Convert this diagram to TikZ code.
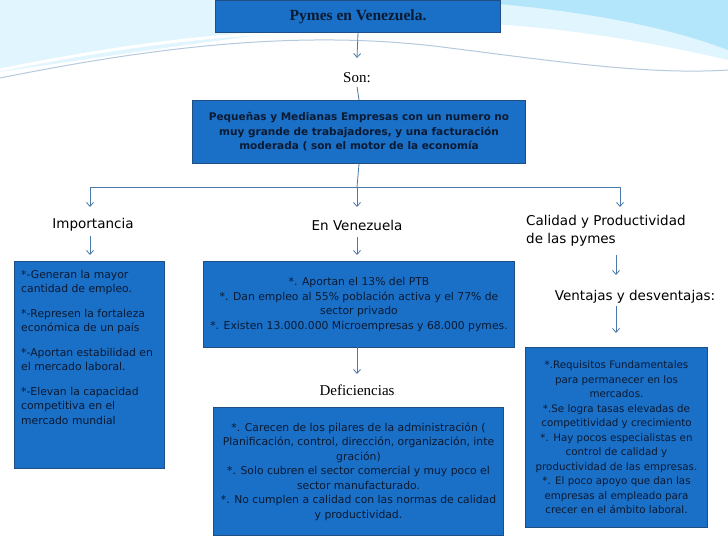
\documentclass[tikz,border=0pt]{standalone}
\usepackage{fontspec}
\setmainfont{DejaVu Sans}
\newfontfamily\serifx{Liberation Serif}
\usetikzlibrary{arrows.meta}
\definecolor{boxblue}{HTML}{1A6FC6}
\definecolor{boxedge}{HTML}{1F4E85}
\definecolor{navy}{HTML}{0B1A33}
\definecolor{linec}{HTML}{4A78A8}
\tikzset{
  x=1pt,y=-1pt,
  bx/.style={draw=boxedge,line width=1pt,fill=boxblue,text=navy,font=\fontsize{10.8}{14.5}\selectfont,inner sep=3pt,anchor=north west,align=center},
  lbl/.style={font=\fontsize{13.5}{18}\selectfont,text=black},
  slbl/.style={font=\serifx\fontsize{15}{17}\selectfont,text=black},
  ar/.style={draw=linec,line width=0.8pt,-{Straight Barb[length=4pt,width=7pt]}},
  ln/.style={draw=linec,line width=0.8pt}
}
\begin{document}
\begin{tikzpicture}
\useasboundingbox (0,0) rectangle (728,546);
\fill[white] (0,0) rectangle (728,546);
% decorative top wave
\fill[cyan!12] (0,0) -- (728,0) -- (728,60) .. controls (600,30) and (450,10) .. (300,30) .. controls (180,45) and (80,60) .. (0,72) -- cycle;
\fill[cyan!30] (440,0) -- (728,0) -- (728,50) .. controls (650,20) and (540,5) .. (440,0) -- cycle;
\draw[white,line width=3pt] (0,70) .. controls (150,40) and (300,20) .. (450,40) .. controls (560,55) and (650,70) .. (728,62);
\draw[linec!40,line width=1pt] (0,78) .. controls (150,48) and (300,28) .. (450,48) .. controls (560,62) and (650,75) .. (728,70);

\node[bx,minimum width=285,minimum height=32,inner sep=0pt] (t) at (215,0) {};
\node[font=\serifx\bfseries\fontsize{15.5}{17}\selectfont,text=navy] at (t.center) {Pymes en Venezuela.};
\node[slbl] (son) at (357,78) {Son:};
\node[bx,minimum width=333,minimum height=63,font=\bfseries\fontsize{10.5}{14.5}\selectfont] (def) at (192,100) {Pequeñas y Medianas Empresas con un numero no\\muy grande de trabajadores, y una facturación\\moderada ( son el motor de la economía};
\draw[ar] (t.south) -- (357,58);
\draw[ln] (son.south) -- (def.north);

\coordinate (hl) at (90,187);
\coordinate (hr) at (620,187);
\draw[ln] (def.south) -- (357,187);
\draw[ln] (hl) -- (hr);
\node[lbl] (imp) at (93,225) {Importancia};
\node[lbl] (ven) at (357,225) {En Venezuela};
\node[lbl,align=left,anchor=north west,inner sep=0pt] (cal) at (526,215) {Calidad y Productividad\\de las pymes};
\draw[ar] (hl) -- (90,207);
\draw[ar] (357,187) -- (357,207);
\draw[ar] (hr) -- (620,207);

\node[bx,minimum width=150,minimum height=207] (b1) at (14,261) {};
\node[anchor=north west,align=left,text=navy,font=\fontsize{10.8}{14.5}\selectfont,inner sep=0pt] at (21,270) {*-Generan la mayor\\cantidad de empleo.\\[10pt]*-Represen la fortaleza\\económica de un país\\[10pt]*-Aportan estabilidad en\\el mercado laboral.\\[10pt]*-Elevan la capacidad\\competitiva en el\\mercado mundial};
\draw[ar] (90,236) -- (90,255);

\node[bx,minimum width=311,minimum height=86] (b2) at (203,261) {*. Aportan el 13\% del PTB\\*. Dan empleo al 55\% población activa y el 77\% de\\sector privado\\*. Existen 13.000.000 Microempresas y 68.000 pymes.};
\draw[ar] (357,237) -- (357,255);

\node[slbl] (dfc) at (357,390) {Deficiencias};
\draw[ar] (357,347) -- (357,374);
\node[bx,minimum width=290,minimum height=128] (b3) at (213,407) {*. Carecen de los pilares de la administración (\\Planificación, control, dirección, organización, inte\\gración)\\*. Solo cubren el sector comercial y muy poco el\\sector manufacturado.\\*. No cumplen a calidad con las normas de calidad\\y productividad.};

\node[lbl] (vd) at (635,297) {Ventajas y desventajas:};
\draw[ar] (616,255) -- (616,275);
\draw[ar] (616,306) -- (616,333);
\node[bx,minimum width=182,minimum height=180,font=\fontsize{10.3}{14.5}\selectfont] (b4) at (525,347) {*.Requisitos Fundamentales\\para  permanecer en los\\mercados.\\*.Se logra tasas elevadas de\\competitividad y crecimiento\\*. Hay pocos especialistas en\\control de calidad y\\productividad de las empresas.\\*. El poco apoyo que dan las\\empresas al empleado para\\crecer en el ámbito laboral.};
\end{tikzpicture}
\end{document}
